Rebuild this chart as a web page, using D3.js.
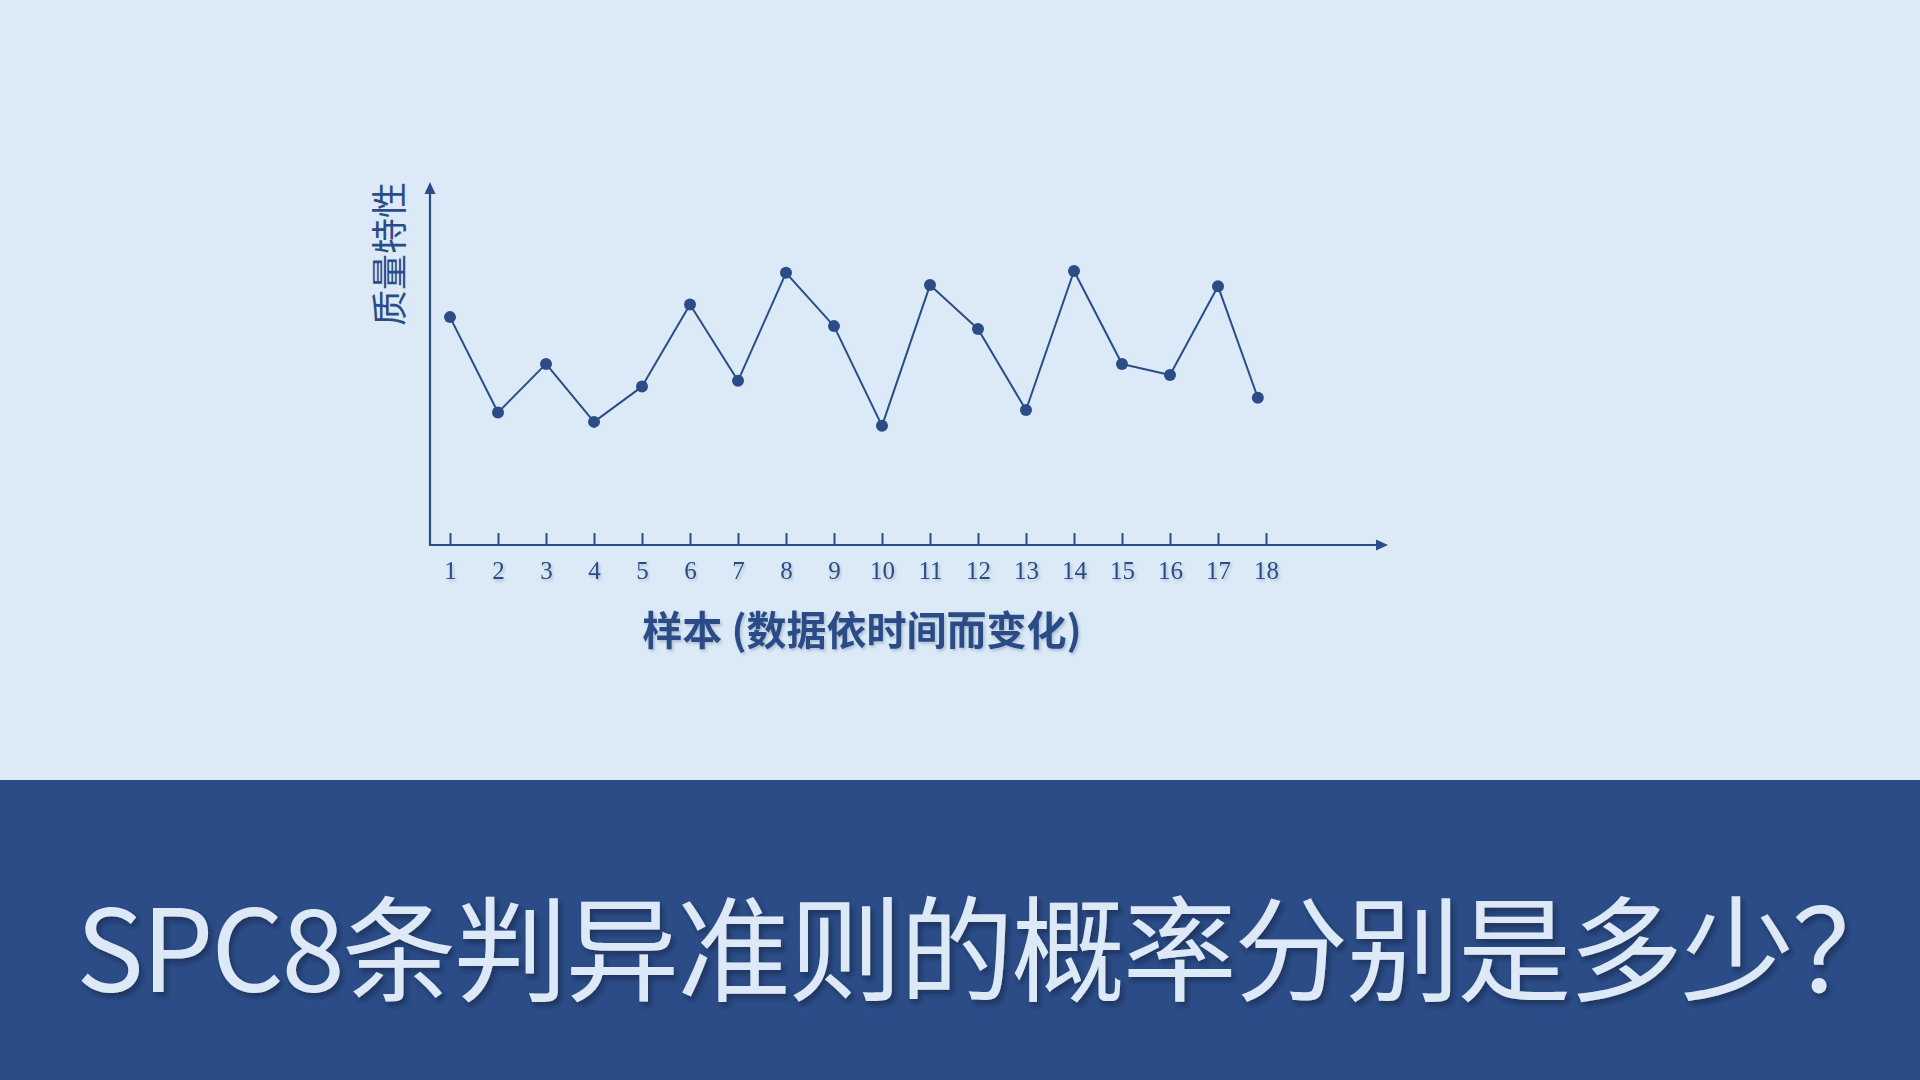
<!DOCTYPE html>
<html>
<head>
<meta charset="utf-8">
<script src="https://cdn.jsdelivr.net/npm/d3@7"></script>
<style>
  html, body { margin: 0; padding: 0; background: #dbeaf6; }
  svg { display: block; }
</style>
</head>
<body>
<svg id="chart" width="1920" height="1080"></svg>
<script>
// data
const samples = [1, 2, 3, 4, 5, 6, 7, 8, 9, 10, 11, 12, 13, 14, 15, 16, 17, 18];
const samplePos = [1, 2, 3, 4, 5, 6, 7, 8, 9, 10, 11, 12, 13, 14, 15, 16, 17, 17.83];
const quality = [6.33, 3.68, 5.03, 3.42, 4.40, 6.68, 4.56, 7.56, 6.08, 3.31, 7.22, 6.0, 3.75, 7.61, 5.03, 4.72, 7.19, 4.09];
const yTitle = "质量特性";
const xTitle = "样本 (数据依时间而变化)";
const headline = "SPC8条判异准则的概率分别是多少？";

const W = 1920, H = 1080;
const dark = "#2b4c86";
const light = "#dbeaf6";
const svg = d3.select("#chart");

// shadow filters
const defs = svg.append("defs");
const sh = defs.append("filter").attr("id", "shadow").attr("x", "-5%").attr("y", "-20%").attr("width", "110%").attr("height", "150%");
sh.append("feDropShadow").attr("dx", 3).attr("dy", 4).attr("stdDeviation", 2.5)
  .attr("flood-color", "#0d1f40").attr("flood-opacity", 0.55);
const shSoft = defs.append("filter").attr("id", "shadowSoft").attr("x", "-10%").attr("y", "-20%").attr("width", "120%").attr("height", "150%");
shSoft.append("feDropShadow").attr("dx", 1.5).attr("dy", 2).attr("stdDeviation", 1.5)
  .attr("flood-color", "#6f86aa").attr("flood-opacity", 0.45);

// background + bottom band
svg.append("rect").attr("width", W).attr("height", H).attr("fill", light);
svg.append("rect").attr("x", 0).attr("y", 780).attr("width", W).attr("height", H - 780).attr("fill", dark);

// scales
const x = d3.scaleLinear().domain([1, 18]).range([450, 1266]);
const y = d3.scaleLinear().domain([0, 10]).range([545, 185]);
const originX = 430, originY = 545;

// x axis with ticks pointing up
const xAxis = d3.axisBottom(x)
    .tickValues(samples)
    .tickFormat(d3.format("d"))
    .tickSizeInner(-12)
    .tickSizeOuter(0)
    .tickPadding(16);

const gx = svg.append("g")
    .attr("transform", `translate(0,${originY})`)
    .call(xAxis);
gx.select(".domain").remove();
gx.selectAll(".tick line").attr("stroke", dark).attr("stroke-width", 2);
gx.selectAll(".tick text")
    .attr("fill", dark)
    .attr("font-family", "'Liberation Serif', 'DejaVu Serif', serif")
    .attr("font-size", 25)
    .attr("filter", "url(#shadowSoft)");

// axis lines with arrows
svg.append("line")
    .attr("x1", originX).attr("y1", originY)
    .attr("x2", 1378).attr("y2", originY)
    .attr("stroke", dark).attr("stroke-width", 2.2);
svg.append("path")
    .attr("d", `M1388,${originY} L1376,${originY - 5.5} L1376,${originY + 5.5} Z`)
    .attr("fill", dark);

svg.append("line")
    .attr("x1", originX).attr("y1", originY + 1)
    .attr("x2", originX).attr("y2", 192)
    .attr("stroke", dark).attr("stroke-width", 2.2);
svg.append("path")
    .attr("d", `M${originX},182 L${originX - 5.5},194 L${originX + 5.5},194 Z`)
    .attr("fill", dark);

// line + points
const pts = quality.map((v, i) => [x(samplePos[i]), y(v)]);
svg.append("path")
    .attr("d", d3.line()(pts))
    .attr("fill", "none")
    .attr("stroke", dark)
    .attr("stroke-width", 2)
    .attr("stroke-linejoin", "round");

svg.selectAll("circle.pt")
    .data(quality)
    .join("circle")
    .attr("class", "pt")
    .attr("cx", (d, i) => x(samplePos[i]))
    .attr("cy", d => y(d))
    .attr("r", 6)
    .attr("fill", dark);

// axis titles
svg.append("text")
    .attr("transform", "translate(403,254) rotate(-90)")
    .attr("text-anchor", "middle")
    .attr("fill", dark)
    .attr("font-family", "'Noto Sans CJK SC', sans-serif")
    .attr("font-size", 36)
    .text(yTitle);

svg.append("text")
    .attr("x", 862)
    .attr("y", 645)
    .attr("text-anchor", "middle")
    .attr("fill", dark)
    .attr("font-family", "'Noto Sans CJK SC', sans-serif")
    .attr("font-weight", 700)
    .attr("font-size", 40)
    .attr("filter", "url(#shadowSoft)")
    .text(xTitle);

// headline in the band
svg.append("text")
    .attr("x", 76)
    .attr("y", 992)
    .attr("textLength", 1830)
    .attr("lengthAdjust", "spacing")
    .attr("fill", "#dde9f6")
    .attr("font-family", "'Noto Sans CJK SC', sans-serif")
    .attr("font-size", 114)
    .attr("filter", "url(#shadow)")
    .text(headline);
</script>
</body>
</html>
